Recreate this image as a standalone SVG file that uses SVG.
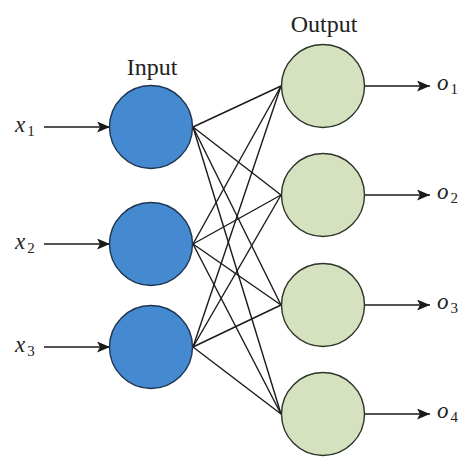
<svg xmlns="http://www.w3.org/2000/svg" width="474" height="474" viewBox="0 0 474 474">
<style>
.in{fill:#4589d1;stroke:#1d3550;stroke-width:1.4}
.out{fill:#d6e2bf;stroke:#2c3528;stroke-width:1.4}
.ln{stroke:#1a1a1a;stroke-width:1.4;fill:none}
.ar{stroke:#1a1a1a;stroke-width:1.5;fill:none;marker-end:url(#ah)}
.ttl{font-family:"Liberation Serif",serif;font-size:24px;fill:#222}
.var{font-family:"Liberation Serif",serif;font-style:italic;font-size:23px;fill:#222}
.sub{font-family:"Liberation Serif",serif;font-size:15px;fill:#222;font-style:normal}
</style>
<defs>
<marker id="ah" markerWidth="13" markerHeight="11" refX="13" refY="5.5" orient="auto" markerUnits="userSpaceOnUse">
<path d="M0,0 L13,5.5 L0,11 L3,5.5 Z" fill="#1a1a1a"/>
</marker>
</defs>
<g id="connectors">
<line class="ln" x1="193" y1="127" x2="281" y2="86"/>
<line class="ln" x1="193" y1="127" x2="281" y2="195"/>
<line class="ln" x1="193" y1="127" x2="281" y2="305"/>
<line class="ln" x1="193" y1="127" x2="281" y2="414"/>
<line class="ln" x1="193" y1="244" x2="281" y2="86"/>
<line class="ln" x1="193" y1="244" x2="281" y2="195"/>
<line class="ln" x1="193" y1="244" x2="281" y2="305"/>
<line class="ln" x1="193" y1="244" x2="281" y2="414"/>
<line class="ln" x1="193" y1="347" x2="281" y2="86"/>
<line class="ln" x1="193" y1="347" x2="281" y2="195"/>
<line class="ln" x1="193" y1="347" x2="281" y2="305"/>
<line class="ln" x1="193" y1="347" x2="281" y2="414"/>
<line class="ar" x1="44" y1="127" x2="110" y2="127"/>
<line class="ar" x1="44" y1="244" x2="110" y2="244"/>
<line class="ar" x1="44" y1="347" x2="110" y2="347"/>
<line class="ar" x1="364" y1="86" x2="430" y2="86"/>
<line class="ar" x1="364" y1="195" x2="430" y2="195"/>
<line class="ar" x1="364" y1="305" x2="430" y2="305"/>
<line class="ar" x1="364" y1="414" x2="430" y2="414"/>
</g>
<text class="ttl" x="152" y="75" text-anchor="middle">Input</text>
<text class="ttl" x="324" y="32" text-anchor="middle">Output</text>
<g id="in1"><circle class="in" cx="151" cy="127" r="41.5"/></g>
<g id="in2"><circle class="in" cx="151" cy="244" r="41.5"/></g>
<g id="in3"><circle class="in" cx="151" cy="347" r="41.5"/></g>
<g id="out1"><circle class="out" cx="323" cy="86" r="41.5"/></g>
<g id="out2"><circle class="out" cx="323" cy="195" r="41.5"/></g>
<g id="out3"><circle class="out" cx="323" cy="305" r="41.5"/></g>
<g id="out4"><circle class="out" cx="323" cy="414" r="41.5"/></g>
<g id="labels">
<text class="var" x="15" y="132">x<tspan class="sub" dx="2" dy="4">1</tspan></text>
<text class="var" x="15" y="249">x<tspan class="sub" dx="2" dy="4">2</tspan></text>
<text class="var" x="15" y="352">x<tspan class="sub" dx="2" dy="4">3</tspan></text>
<text class="var" x="437" y="90">o<tspan class="sub" dx="2" dy="4">1</tspan></text>
<text class="var" x="437" y="199">o<tspan class="sub" dx="2" dy="4">2</tspan></text>
<text class="var" x="437" y="309">o<tspan class="sub" dx="2" dy="4">3</tspan></text>
<text class="var" x="437" y="418">o<tspan class="sub" dx="2" dy="4">4</tspan></text>
</g>
</svg>
